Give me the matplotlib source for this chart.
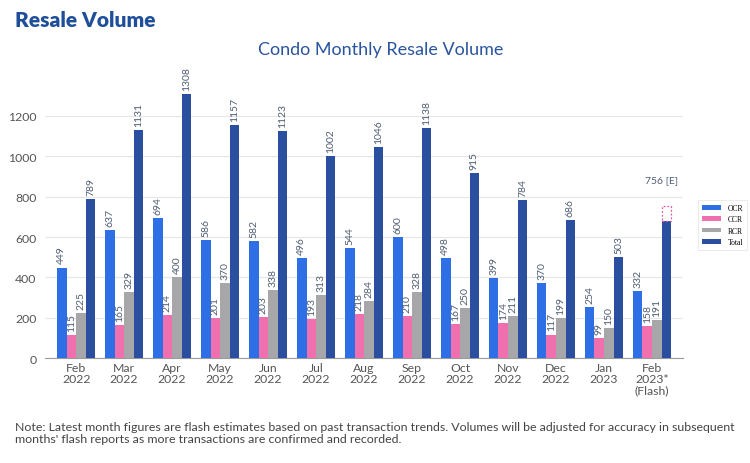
import numpy as np
import matplotlib.pyplot as plt
from matplotlib.patches import Rectangle

plt.rcParams["font.family"] = ["Lato", "DejaVu Sans"]

months = ["Feb\n2022", "Mar\n2022", "Apr\n2022", "May\n2022", "Jun\n2022", "Jul\n2022",
          "Aug\n2022", "Sep\n2022", "Oct\n2022", "Nov\n2022", "Dec\n2022", "Jan\n2023",
          "Feb\n2023*\n(Flash)"]
ocr = [449, 637, 694, 586, 582, 496, 544, 600, 498, 399, 370, 254, 332]
ccr = [115, 165, 214, 201, 203, 193, 218, 210, 167, 174, 117, 99, 158]
rcr = [225, 329, 400, 370, 338, 313, 284, 328, 250, 211, 199, 150, 191]
total = [789, 1131, 1308, 1157, 1123, 1002, 1046, 1138, 915, 784, 686, 503, 681]
total_est = 756

colors = ["#2f6fe6", "#f06fae", "#a7a7a9", "#2a4f9e"]
names = ["OCR", "CCR", "RCR", "Total"]
label_color = "#4f5d75"

fig = plt.figure(figsize=(7.5, 4.64), dpi=100)
ax = fig.add_axes([0.06, 0.226, 0.851, 0.609])

x = np.arange(len(months))
w = 0.2
series = [ocr, ccr, rcr, total]
for i, (vals, c, n) in enumerate(zip(series, colors, names)):
    pos = x + (i - 1.5) * w
    ax.bar(pos, vals, width=w, color=c, label=n, zorder=3)
    for j, (p, v) in enumerate(zip(pos, vals)):
        if n == "Total" and j == len(months) - 1:
            continue
        ax.text(p, v + 20, str(v), rotation=90, ha="center", va="bottom",
                fontsize=7.5, color=label_color)

# flash estimate box on last total bar
lx = x[-1] + 1.5 * w
ax.add_patch(Rectangle((lx - w / 2, total[-1]), w, total_est - total[-1], fill=False,
                       edgecolor="#e05aa0", linestyle=(0, (1.5, 1.5)), linewidth=0.9, zorder=4))
ax.text(lx - 0.1, 860, "%d [E]" % total_est, ha="center", va="bottom",
        fontsize=7.5, color=label_color)

ax.set_xlim(-0.65, len(months) - 0.35)
ax.set_ylim(0, 1400)
ax.set_yticks(range(0, 1201, 200))
ax.set_xticks(x)
ax.set_xticklabels(months, fontsize=8.8, color="#555555", linespacing=1.0)
ax.tick_params(axis="y", labelsize=8.8, colors="#555555", length=0, pad=6)
ax.tick_params(axis="x", length=0, pad=3)
ax.grid(axis="y", color="#e6e6e6", linewidth=0.8, zorder=0)
for s in ["top", "right", "left"]:
    ax.spines[s].set_visible(False)
ax.spines["bottom"].set_color("#999999")

leg = fig.legend(loc="upper left", bbox_to_anchor=(0.926, 0.575),
                 frameon=True, handlelength=2.5, handleheight=0.6, labelspacing=0.45,
                 borderpad=0.5, fancybox=False, prop={"family": "Liberation Serif", "size": 5.5})
leg.get_frame().set_edgecolor("#e2e2e2")
leg.get_frame().set_linewidth(0.6)

fig.text(0.02, 0.955, "Resale Volume", fontsize=15, fontweight="heavy",
         color="#1f4f99", va="center")
fig.text(0.507, 0.893, "Condo Monthly Resale Volume", fontsize=13,
         color="#2a559e", ha="center", va="center")
fig.text(0.02, 0.066,
         "Note: Latest month figures are flash estimates based on past transaction trends. "
         "Volumes will be adjusted for accuracy in subsequent\nmonths' flash reports as "
         "more transactions are confirmed and recorded.",
         fontsize=8.9, color="#444444", va="center", linespacing=1.05)

fig.savefig("out.png", dpi=100)
